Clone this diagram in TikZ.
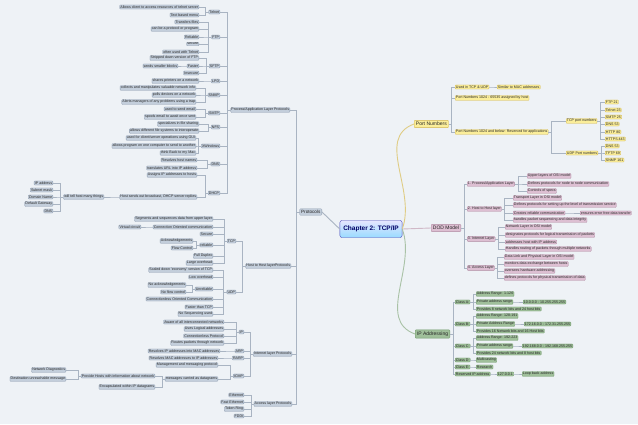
\documentclass[tikz,border=0pt]{standalone}
\usepackage{fontspec}
\setmainfont{Liberation Sans}
\definecolor{bg}{HTML}{EEF2F6}
\definecolor{bfill}{HTML}{C3CEDB}
\definecolor{bdraw}{HTML}{8C9BAE}
\definecolor{yfill}{HTML}{FBEE9A}
\definecolor{ydraw}{HTML}{D2B650}
\definecolor{pfill}{HTML}{DDBFD2}
\definecolor{pdraw}{HTML}{B08AA2}
\definecolor{gfill}{HTML}{9FBF9A}
\definecolor{gdraw}{HTML}{6F9A6A}
\definecolor{lnc}{HTML}{A9B4C2}
\tikzset{
 base/.style={rounded corners=0.8pt,inner sep=0.75pt,font=\fontsize{3.6}{4}\selectfont,text=black!85},
 lb/.style={base,fill=bfill,draw=bdraw,line width=0.3pt},
 lbm/.style={lb,font=\fontsize{4.6}{5}\selectfont,inner sep=1.5pt},
 yb/.style={base,fill=yfill,draw=ydraw,line width=0.3pt},
 pb/.style={base,fill=pfill,draw=pdraw,line width=0.3pt},
 gb/.style={base,fill=gfill,draw=gdraw,line width=0.3pt},
 ln/.style={draw=lnc,line width=0.5pt},
}
\newcommand\LN[6]{\node[#1,anchor=east] (#2) at (#3,#4) {#5}; \draw[ln] (#6.west) -- ++(-3,0) |- (#2.east);}
\newcommand\RN[6]{\node[#1,anchor=west] (#2) at (#3,#4) {#5}; \draw[ln] (#6.east) -- ++(3,0) |- (#2.west);}
\begin{document}
\begin{tikzpicture}[x=1pt,y=-1pt]
\useasboundingbox (0,0) rectangle (638,424);
\fill[bg] (0,0) rectangle (638,424);
% center
\node[rounded corners=2pt,draw=blue!45!gray,top color=blue!10,bottom color=blue!35!cyan!40,minimum width=62,minimum height=17,font=\fontsize{6.5}{7}\selectfont\bfseries,text=blue!40!black] (c) at (371,229) {Chapter 2: TCP/IP};
% main nodes
\node[lbm,anchor=east] (prot) at (322,212) {Protocols};
\draw[ln,line width=0.9pt] (c.west) -- (prot.east);
\node[yb,font=\fontsize{5}{6}\selectfont,inner sep=1.8pt,anchor=west] (port) at (414,124) {Port Numbers};
\draw[ln,draw=ydraw!70,line width=0.9pt] (c.east) to[out=70,in=200] (port.west);
\node[pb,font=\fontsize{5}{6}\selectfont,inner sep=1.8pt,anchor=west] (dod) at (431,228) {DOD Model};
\draw[ln,draw=pdraw!60,line width=0.9pt] (c.east) -- (dod.west);
\node[gb,font=\fontsize{5}{6}\selectfont,inner sep=1.8pt,anchor=west] (ipa) at (415,334) {IP Addressing};
\draw[ln,draw=gdraw!60,line width=0.9pt] (c.east) to[out=-70,in=160] (ipa.west);
% level 1 left
\LN{lb}{pal}{290}{110}{Process/Application Layer Protocols}{prot}
\LN{lb}{hhl}{291}{266}{Host to Host layerProtocols}{prot}
\LN{lb}{ill}{292}{354}{Internet layer Protocols}{prot}
\LN{lb}{acl}{292}{404}{Access layer Protocols}{prot}
% process/app
\LN{lb}{telnet}{220}{12}{Telnet}{pal}
\LN{lb}{ftp}{220}{37}{FTP}{pal}
\LN{lb}{sftp}{220}{66}{SFTP}{pal}
\LN{lb}{lpd}{220}{81}{LPD}{pal}
\LN{lb}{snmp}{220}{95}{SNMP}{pal}
\LN{lb}{smtp}{220}{113}{SMTP}{pal}
\LN{lb}{nfs}{220}{127}{NFS}{pal}
\LN{lb}{xw}{220}{146}{XWindows}{pal}
\LN{lb}{dns}{220}{164}{DNS}{pal}
\LN{lb}{dhcp}{220}{193}{DHCP}{pal}
\LN{lb}{t1}{199}{7}{Allows client to access resources of telnet server}{telnet}
\LN{lb}{t2}{199}{15}{Text based menu}{telnet}
\LN{lb}{f1}{199}{22}{Transfers files}{ftp}
\LN{lb}{f2}{199}{29}{can be a protocol or program}{ftp}
\LN{lb}{f3}{199}{37}{Reliable}{ftp}
\LN{lb}{f4}{199}{44}{secure}{ftp}
\LN{lb}{f5}{199}{52}{often used with Telnet}{ftp}
\LN{lb}{s1}{199}{58}{Stripped down version of FTP}{sftp}
\LN{lb}{s2}{199}{66}{Faster}{sftp}
\LN{lb}{s21}{178}{66}{sends smaller blocks}{s2}
\LN{lb}{s3}{199}{73}{Insecure}{sftp}
\LN{lb}{l1}{199}{81}{shares printers on a network}{lpd}
\LN{lb}{n1}{196}{88}{collects and manipulates valuable network info}{snmp}
\LN{lb}{n2}{196}{95}{polls devices on a network}{snmp}
\LN{lb}{n3}{196}{102}{Alerts managers of any problems using a trap}{snmp}
\LN{lb}{m1}{196}{109}{used to send email}{smtp}
\LN{lb}{m2}{196}{117}{spools email to await once sent}{smtp}
\LN{lb}{nf1}{199}{124}{specializes in file sharing}{nfs}
\LN{lb}{nf2}{199}{131}{allows different file systems to interoperate}{nfs}
\LN{lb}{x1}{196}{138}{used for client/server operations using GUI}{xw}
\LN{lb}{x2}{196}{146}{allows program on one computer to send to another}{xw}
\LN{lb}{x3}{196}{153}{think Back to my Mac}{xw}
\LN{lb}{d1}{197}{160}{Resolves host names}{dns}
\LN{lb}{d2}{197}{168}{translates URL into IP address}{dns}
\LN{lb}{h1}{197}{175}{Assigns IP addresses to hosts}{dhcp}
\LN{lb}{h2}{197}{197}{Host sends out broadcast, DHCP server replies}{dhcp}
\LN{lb}{h3}{104}{197}{will tell host many things}{h2}
\LN{lb}{g1}{53}{183}{IP address}{h3}
\LN{lb}{g2}{53}{190}{Subnet mask}{h3}
\LN{lb}{g3}{53}{197}{Domain Name}{h3}
\LN{lb}{g4}{53}{204}{Default Gateway}{h3}
\LN{lb}{g5}{53}{211}{DNS}{h3}
% host to host
\LN{lb}{tcp}{236}{241}{TCP}{hhl}
\LN{lb}{udp}{236}{292}{UDP}{hhl}
\LN{lb}{tc1}{213}{219}{Segments and sequences data from upper layer}{tcp}
\LN{lb}{tc2}{213}{227}{Connection Oriented communication}{tcp}
\LN{lb}{tc21}{141}{227}{Virtual circuit}{tc2}
\LN{lb}{tc3}{213}{234}{Secure}{tcp}
\LN{lb}{tc4}{213}{245}{reliable}{tcp}
\LN{lb}{tc41}{193}{241}{Acknowledgements}{tc4}
\LN{lb}{tc42}{193}{248}{Flow Control}{tc4}
\LN{lb}{tc5}{213}{256}{Full Duplex}{tcp}
\LN{lb}{tc6}{213}{263}{Large overhead}{tcp}
\LN{lb}{u1}{213}{270}{Scaled down 'economy' version of TCP}{udp}
\LN{lb}{u2}{213}{277}{Low overhead}{udp}
\LN{lb}{u3}{213}{289}{Unreliable}{udp}
\LN{lb}{u31}{186}{285}{No acknowledgements}{u3}
\LN{lb}{u32}{186}{292}{No flow control}{u3}
\LN{lb}{u4}{213}{299}{Connectionless Oriented Communication}{udp}
\LN{lb}{u5}{213}{307}{Faster than TCP}{udp}
\LN{lb}{u6}{213}{314}{No Sequencing used}{udp}
% internet
\LN{lb}{ip}{244}{332}{IP}{ill}
\LN{lb}{arp}{244}{351}{ARP}{ill}
\LN{lb}{rarp}{244}{358}{RARP}{ill}
\LN{lb}{icmp}{244}{376}{ICMP}{ill}
\LN{lb}{i1}{224}{322}{Aware of all interconnected networks}{ip}
\LN{lb}{i2}{224}{329}{Uses Logical addresses}{ip}
\LN{lb}{i3}{224}{336}{Connectionless Protocol}{ip}
\LN{lb}{i4}{224}{343}{Routes packets through network}{ip}
\LN{lb}{a1}{220}{351}{Resolves IP addresses into MAC addresses}{arp}
\LN{lb}{r1}{218}{358}{Resolves MAC addresses to IP addresses}{rarp}
\LN{lb}{c1}{218}{365}{Management and messaging protocol}{icmp}
\LN{lb}{c2}{218}{379}{messages carried as datagrams}{icmp}
\LN{lb}{c21}{155}{376}{Provide Hosts with information about network}{c2}
\LN{lb}{c22}{155}{387}{Encapsulated within IP datagrams}{c2}
\LN{lb}{c211}{66}{370}{Network Diagnostics}{c21}
\LN{lb}{c212}{66}{379}{Destination unreachable message}{c21}
% access
\LN{lb}{e1}{244}{395}{Ethernet}{acl}
\LN{lb}{e2}{244}{402}{Fast Ethernet}{acl}
\LN{lb}{e3}{244}{409}{Token Ring}{acl}
\LN{lb}{e4}{244}{416}{FDDI}{acl}
% port numbers
\RN{yb}{p1}{455}{87}{Used in TCP \& UDP}{port}
\RN{yb}{p11}{497}{87}{Similar to MAC addresses}{p1}
\RN{yb}{p2}{455}{98}{Port Numbers 1024 - 65535 assigned by host}{port}
\RN{yb}{p3}{455}{132}{Port Numbers 1024 and below: Reserved for applications}{port}
\RN{yb}{tpn}{566}{121}{TCP port numbers}{p3}
\RN{yb}{upn}{566}{153}{UDP Port numbers}{p3}
\RN{yb}{q1}{605}{102}{FTP 21}{tpn}
\RN{yb}{q2}{605}{110}{Telnet 23}{tpn}
\RN{yb}{q3}{605}{117}{SMTP 25}{tpn}
\RN{yb}{q4}{605}{124}{DNS 53}{tpn}
\RN{yb}{q5}{605}{132}{HTTP 80}{tpn}
\RN{yb}{q6}{605}{139}{HTTPS 443}{tpn}
\RN{yb}{q7}{605}{146}{DNS 53}{upn}
\RN{yb}{q8}{605}{153}{TFTP 69}{upn}
\RN{yb}{q9}{605}{160}{SNMP 161}{upn}
% DOD
\RN{pb}{L1}{467}{184}{1. Process/Application Layer}{dod}
\RN{pb}{L2}{467}{209}{2. Host to Host layer}{dod}
\RN{pb}{L3}{467}{239}{3. Internet Layer}{dod}
\RN{pb}{L4}{467}{268}{4. Access Layer}{dod}
\RN{pb}{o1}{527}{176}{Upper layers of OSI model}{L1}
\RN{pb}{o2}{527}{184}{Defines protocols for node to node communication}{L1}
\RN{pb}{o3}{527}{191}{Controls of specs}{L1}
\RN{pb}{o4}{513}{198}{Transport Layer in OSI model}{L2}
\RN{pb}{o5}{513}{205}{Defines protocols for setting up the level of transmission service}{L2}
\RN{pb}{o6}{513}{213}{Creates reliable communication}{L2}
\RN{pb}{o61}{580}{213}{ensures error free data transfer}{o6}
\RN{pb}{o7}{513}{220}{handles packet sequencing and data integrity}{L2}
\RN{pb}{o8}{505}{227}{Network Layer in OSI model}{L3}
\RN{pb}{o9}{505}{235}{designates protocols for logical transmission of packets}{L3}
\RN{pb}{o10}{505}{242}{addresses host with IP address}{L3}
\RN{pb}{o11}{505}{249}{Handles routing of packets through multiple networks}{L3}
\RN{pb}{o12}{504}{257}{Data Link and Physical Layer in OSI model}{L4}
\RN{pb}{o13}{504}{264}{monitors data exchange between hosts}{L4}
\RN{pb}{o14}{504}{271}{oversees hardware addressing}{L4}
\RN{pb}{o15}{504}{278}{defines protocols for physical transmission of data}{L4}
% IP addressing
\RN{gb}{ca}{455}{302}{Class A:}{ipa}
\RN{gb}{cb}{455}{324}{Class B:}{ipa}
\RN{gb}{cc}{455}{346}{Class C:}{ipa}
\RN{gb}{cd}{455}{360}{Class D:}{ipa}
\RN{gb}{ce}{455}{367}{Class E:}{ipa}
\RN{gb}{rs}{455}{374}{Reserved IP address}{ipa}
\RN{gb}{a1x}{476}{294}{Address Range: 1-126}{ca}
\RN{gb}{a2x}{476}{302}{Private address range}{ca}
\RN{gb}{a21}{523}{302}{10.0.0.0 - 10.255.255.255}{a2x}
\RN{gb}{a3x}{476}{309}{Provides 8 network bits and 24 host bits}{ca}
\RN{gb}{b1x}{476}{316}{Address Range: 128-191}{cb}
\RN{gb}{b2x}{476}{324}{Private Address Range}{cb}
\RN{gb}{b21}{524}{324}{172.16.0.0 - 172.31.255.255}{b2x}
\RN{gb}{b3x}{476}{331}{Provides 16 Network bits and 16 Host bits}{cb}
\RN{gb}{k1x}{476}{338}{Address Range: 192-223}{cc}
\RN{gb}{k2x}{476}{346}{Private address range}{cc}
\RN{gb}{k21}{522}{346}{192.168.0.0 - 192.168.255.255}{k2x}
\RN{gb}{k3x}{476}{353}{Provides 24 network bits and 8 host bits}{cc}
\RN{gb}{dx}{476}{360}{Multicasting}{cd}
\RN{gb}{ex}{476}{367}{Research}{ce}
\RN{gb}{rs1}{497}{374}{127.0.0.1}{rs}
\RN{gb}{rs2}{522}{374}{Loop back address}{rs1}
\end{tikzpicture}
\end{document}
